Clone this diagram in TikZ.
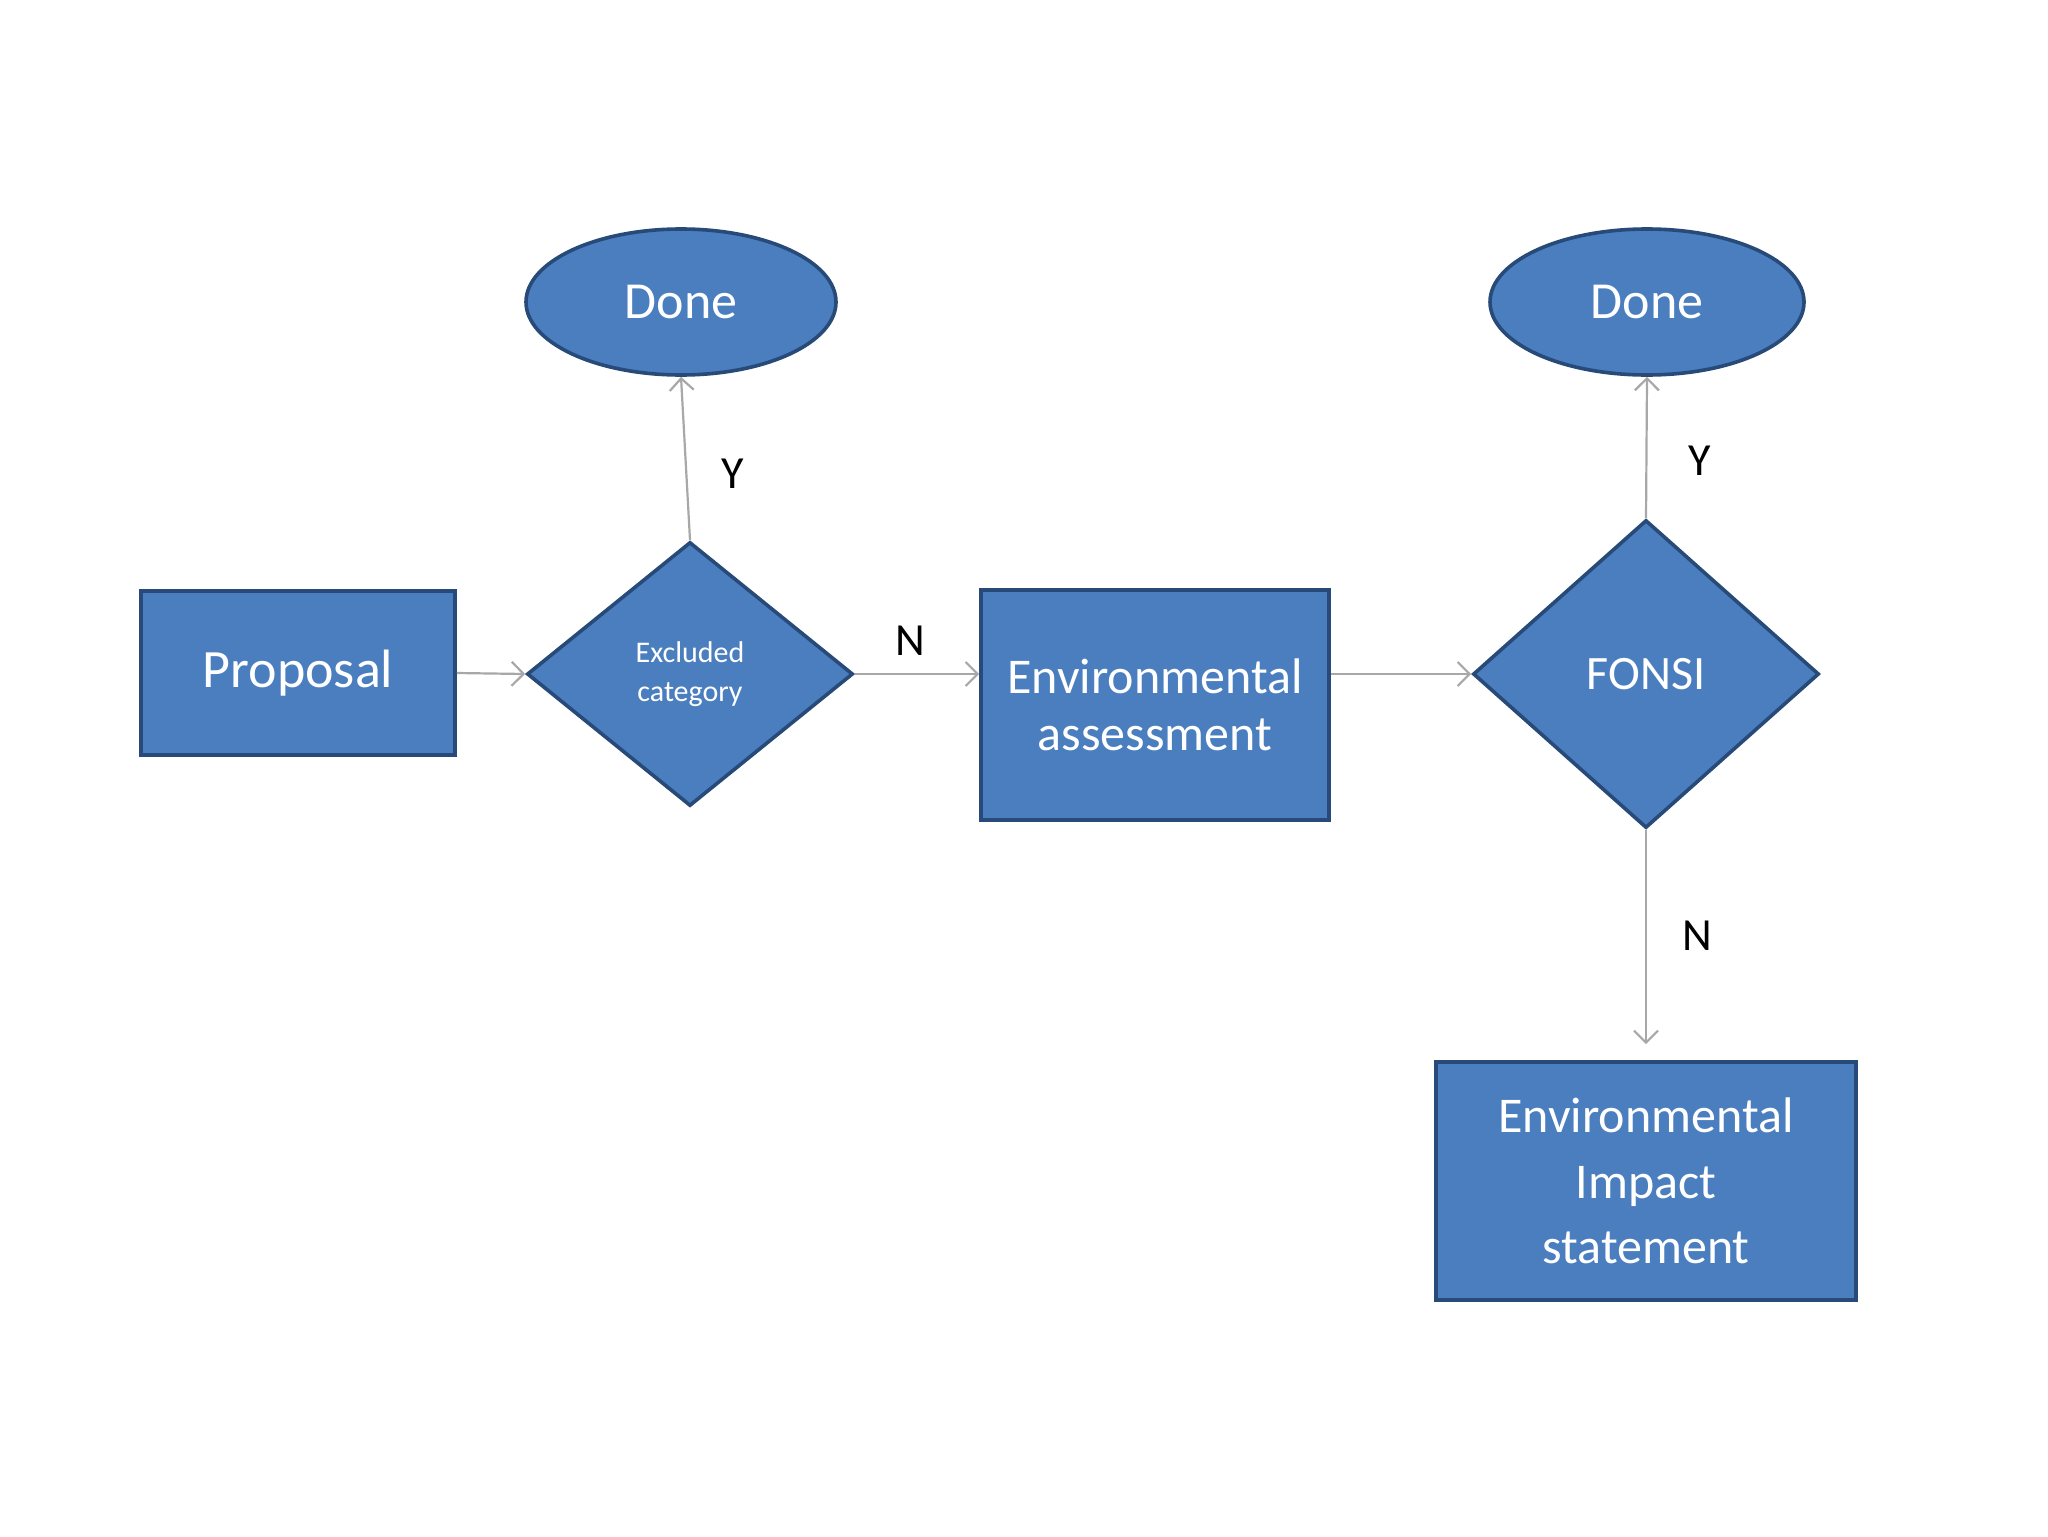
\documentclass[tikz,border=0pt]{standalone}
\usepackage{fontspec}
\setmainfont{Carlito}
\usetikzlibrary{shapes.geometric,arrows.meta}
\definecolor{boxfill}{HTML}{4A7EBF}
\definecolor{boxline}{HTML}{274A78}
\definecolor{arrowgray}{HTML}{A8A8A8}
\tikzset{
  blk/.style={fill=boxfill,draw=boxline,line width=1.8pt,text=white,align=center,inner sep=0pt},
  rectbox/.style={blk,rectangle},
  ovalbox/.style={blk,ellipse},
  decbox/.style={blk,diamond},
  conn/.style={draw=arrowgray,line width=1.1pt,-{Straight Barb[length=6pt,width=12pt,line width=1.1pt]}},
  yn/.style={text=black,font=\fontsize{23}{26}\selectfont,inner sep=0pt}
}
\begin{document}
\begin{tikzpicture}[x=0.5pt,y=-0.5pt]
\fill[white] (0,0) rectangle (2048,1536);
\useasboundingbox (0,0) rectangle (2048,1536);

\node[rectbox,minimum width=157pt,minimum height=82pt,font=\fontsize{27}{30}\selectfont] (prop) at (298,673) {Proposal};
\node[decbox,minimum width=163pt,minimum height=132pt,font=\fontsize{15}{19.5}\selectfont] (excl) at (690,674) {Excluded\\category};
\node[ovalbox,minimum width=155pt,minimum height=73pt,font=\fontsize{26}{30}\selectfont] (done1) at (681,302) {Done};
\node[rectbox,minimum width=174pt,minimum height=115pt,font=\fontsize{25}{28.7}\selectfont] (enva) at (1155,705) {Environmental\\assessment};
\node[decbox,minimum width=173pt,minimum height=154pt,font=\fontsize{24}{28}\selectfont] (fonsi) at (1646,674) {FONSI};
\node[ovalbox,minimum width=157pt,minimum height=73pt,font=\fontsize{26}{30}\selectfont] (done2) at (1647,302) {Done};
\node[rectbox,minimum width=210pt,minimum height=119pt,font=\fontsize{25}{32.7}\selectfont] (eis) at (1646,1181) {Environmental\\Impact\\statement};

\draw[conn] (prop.east) -- (excl.west);
\draw[conn] (excl.north) -- (done1.south);
\draw[conn] (excl.east) -- (excl.east -| enva.west);
\draw[conn] (enva.east |- fonsi.west) -- (fonsi.west);
\draw[conn] (fonsi.north) -- (done2.south);
\draw[conn,shorten >=8pt] (fonsi.south) -- (eis.north);

\node[yn] (y1) at (733,474) {Y};
\node[yn] (n1) at (910,641) {N};
\node[yn] (y2) at (1700,461) {Y};
\node[yn] (n2) at (1697,936) {N};
\end{tikzpicture}
\end{document}
